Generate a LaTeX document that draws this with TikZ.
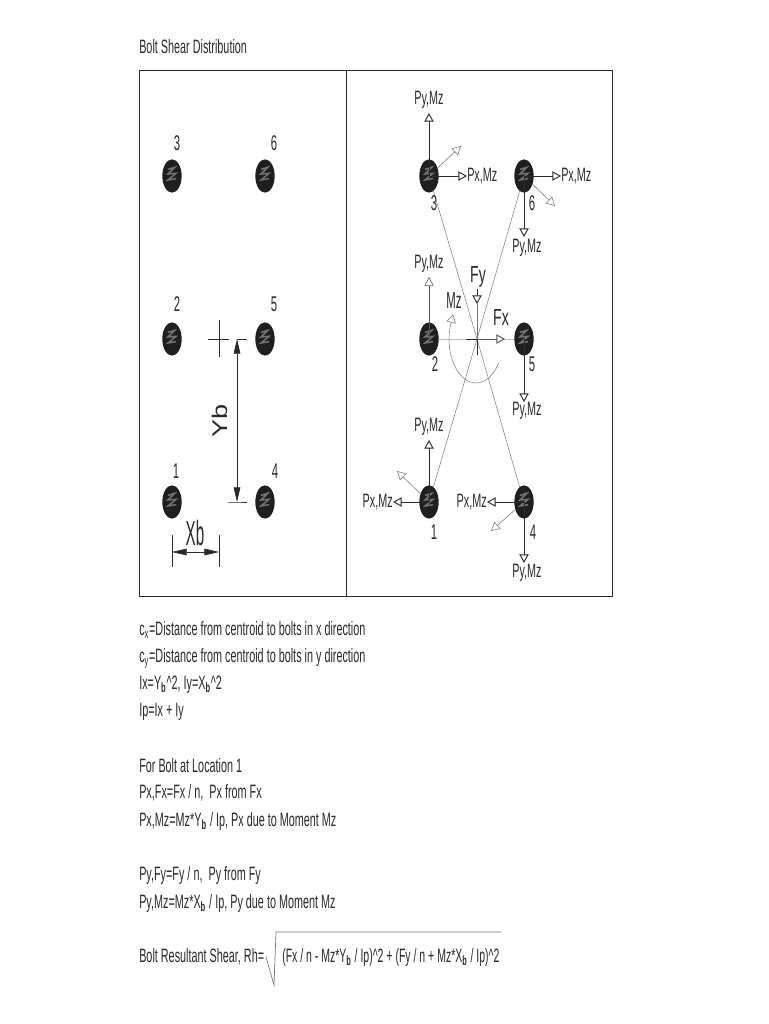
\documentclass[tikz,border=0pt]{standalone}
\usepackage{fontspec}
\setmainfont[FakeStretch=0.56]{Liberation Sans}
\usepackage{xcolor}
\usetikzlibrary{positioning,arrows.meta,shapes.geometric}
\definecolor{ink}{HTML}{2A2A2A}
\newcommand{\subb}{\textsubscript{\textbf{b}}}
\tikzset{
  bolt/.style={draw=none,ellipse,fill=black!88,minimum width=14.5pt,minimum height=25pt,inner sep=0pt,
    path picture={\draw[black!55,line width=1.1pt]
      ([shift={(-3pt,5pt)}]path picture bounding box.center) -- ++(5pt,1.5pt) -- ++(-5pt,-5pt) -- ++(6pt,0.5pt) -- ++(-6pt,-5pt) -- ++(6pt,1pt);}},
  lbl/.style={text=ink,inner sep=0pt,font=\fontsize{14.5}{16}\selectfont},
  num/.style={lbl},
  line/.style={lbl,anchor=west},
  force/.style={draw=ink,line width=0.7pt,-{Triangle[open,length=6.5pt,width=7pt,fill=white]}},
  moment/.style={draw=black!50,line width=0.45pt,-{Triangle[open,length=6.5pt,width=7pt,fill=white]}},
  radial/.style={draw=black!55,line width=0.35pt},
  dim/.style={draw=ink,line width=0.5pt,{Triangle[length=11pt,width=5pt]}-{Triangle[length=11pt,width=5pt]}},
  thin line/.style={draw=ink,line width=0.5pt}
}
\begin{document}
\begin{tikzpicture}[x=0.75pt,y=-0.75pt]
  \useasboundingbox (0,0) rectangle (768,1024);
  \fill[white] (0,0) rectangle (768,1024);

  \node[line] (title) at (139,47) {Bolt Shear Distribution};
  \node[draw=ink,line width=0.7pt,minimum width=354.75pt,minimum height=394.5pt,inner sep=0pt,anchor=north west] (frame) at (139,70) {};
  \coordinate (divtop) at (346,70);
  \coordinate (divbot) at (346,596);
  \draw[draw=ink,line width=0.6pt] (divtop) -- (divbot);

  % left panel
  \node[bolt] (a1) at (172,502) {};
  \node[bolt] (a2) at (172,339) {};
  \node[bolt] (a3) at (172,176) {};
  \node[bolt] (a4) at (265,502) {};
  \node[bolt] (a5) at (265,339) {};
  \node[bolt] (a6) at (265,176) {};
  \node[num] (na3) at (177,143) {\scalebox{1.05}[1.1]{3}};
  \node[num] (na6) at (274,143) {\scalebox{1.05}[1.1]{6}};
  \node[num] (na2) at (177,304) {\scalebox{1.05}[1.1]{2}};
  \node[num] (na5) at (274,304) {\scalebox{1.05}[1.1]{5}};
  \node[num] (na1) at (176,471) {\scalebox{1.05}[1.1]{1}};
  \node[num] (na4) at (275,471) {\scalebox{1.05}[1.1]{4}};

  \coordinate (ca) at (219,339);
  \draw[thin line] (208,339) -- (229,339);
  \draw[thin line] (219,320) -- (219,357);
  \coordinate (ytop) at (237,339);
  \coordinate (ybot) at (237,502);
  \draw[thin line] (ytop) -- +(10,0);
  \draw[thin line] (228,502) -- (ybot) -- +(10,0);
  \draw[dim] (ytop) -- (ybot);
  \node[lbl,rotate=90] (yb) at (220,421) {\scalebox{2.5}[1.1]{Yb}};
  \coordinate (xl) at (172,552);
  \coordinate (xr) at (219,552);
  \draw[thin line] (172,535) -- (172,567);
  \draw[thin line] (219,535) -- (219,567);
  \draw[dim] (xl) -- (xr);
  \node[lbl] (xb) at (195,533) {\scalebox{1.4}[1.8]{Xb}};

  % right panel
  \node[bolt] (b1) at (429,502) {};
  \node[bolt] (b2) at (429,339) {};
  \node[bolt] (b3) at (429,176) {};
  \node[bolt] (b4) at (524,502) {};
  \node[bolt] (b5) at (524,339) {};
  \node[bolt] (b6) at (524,176) {};
  \coordinate (cb) at (477,339);

  \draw[radial] (cb) -- (b1);
  \draw[radial] (cb) -- (b3);
  \draw[radial] (cb) -- (b4);
  \draw[radial] (cb) -- (b6);
  \draw[draw=black!25,line width=0.6pt] (b2) -- (b5);

  \node[num] (nb3) at (434,203) {\scalebox{1.05}[1.1]{3}};
  \node[num] (nb6) at (532,203) {\scalebox{1.05}[1.1]{6}};
  \node[num] (nb2) at (435,364) {\scalebox{1.05}[1.1]{2}};
  \node[num] (nb5) at (532,364) {\scalebox{1.05}[1.1]{5}};
  \node[num] (nb1) at (434,532) {\scalebox{1.05}[1.1]{1}};
  \node[num] (nb4) at (533,532) {\scalebox{1.05}[1.1]{4}};

  % bolt 3
  \coordinate (u3) at (429,113);
  \coordinate (r3) at (467,176);
  \coordinate (m3) at (461,146);
  \node[lbl] (py3) at (429,100) {Py,Mz};
  \node[lbl,right=0pt of r3] (px3) {Px,Mz};
  \draw[force] (b3.center) -- (u3);
  \draw[force] (b3.center) -- (r3);
  \draw[moment] (b3) -- (m3);

  % bolt 6
  \coordinate (d6) at (524,237);
  \coordinate (r6) at (561,176);
  \coordinate (m6) at (555,206);
  \node[lbl] (py6) at (527,248) {Py,Mz};
  \node[lbl,right=0pt of r6] (px6) {Px,Mz};
  \draw[force] (b6.center) -- (d6);
  \draw[force] (b6.center) -- (r6);
  \draw[moment] (b6) -- (m6);

  % bolt 2
  \coordinate (u2) at (429,277);
  \node[lbl] (py2) at (429,264) {Py,Mz};
  \draw[moment,draw=ink!80] (b2.center) -- (u2);

  % bolt 5
  \coordinate (d5) at (524,402);
  \node[lbl] (py5) at (527,411) {Py,Mz};
  \draw[force] (b5.center) -- (d5);

  % bolt 1
  \coordinate (u1) at (429,440);
  \coordinate (l1) at (393,502);
  \coordinate (m1) at (397,471);
  \node[lbl] (py1) at (429,427) {Py,Mz};
  \node[lbl,left=0pt of l1] (px1) {Px,Mz};
  \draw[force] (b1.center) -- (u1);
  \draw[force] (b1.center) -- (l1);
  \draw[moment] (b1) -- (m1);

  % bolt 4
  \coordinate (d4) at (524,563);
  \coordinate (l4) at (487,502);
  \coordinate (m4) at (491,531);
  \node[lbl] (py4) at (527,573) {Py,Mz};
  \node[lbl,left=0pt of l4] (px4) {Px,Mz};
  \draw[force] (b4.center) -- (d4);
  \draw[force] (b4.center) -- (l4);
  \draw[moment] (b4) -- (m4);

  % applied loads at the centroid
  \coordinate (fytail) at (477,289);
  \coordinate (fytip) at (477,304);
  \coordinate (fxtip) at (505,339);
  \coordinate (arcst) at (449.6,329.9);
  \coordinate (mztip) at (453,314);
  \draw[thin line] (466,339) -- (487,339);
  \draw[thin line] (cb) -- (477,355);
  \draw[force] (fytail) -- (fytip);
  \draw[radial] (fytip) -- (cb);
  \draw[force,draw=ink!80] (cb) -- (fxtip);
  \draw[moment] (arcst) -- (mztip);
  \draw[draw=black!50,line width=0.4pt] (arcst) arc[start angle=168,delta angle=159,x radius=20.25pt,y radius=33pt];
  \node[lbl] (fy) at (478,277) {\scalebox{1.3}[1.2]{Fy}};
  \node[lbl] (fx) at (501,318) {\scalebox{1.3}[1.2]{Fx}};
  \node[lbl] (mz) at (454,301) {\scalebox{1.05}[1.2]{Mz}};

  % notes
  \node[line] (t1) at (139,630) {c\textsubscript{x}=Distance from centroid to bolts in x direction};
  \node[line] (t2) at (139,658) {c\textsubscript{y}=Distance from centroid to bolts in y direction};
  \node[line] (t3) at (139,685) {Ix=Y\subb\^{}2, Iy=X\subb\^{}2};
  \node[line] (t4) at (139,712) {Ip=Ix + Iy};
  \node[line] (t5) at (139,766) {For Bolt at Location 1};
  \node[line] (t6) at (139,793) {Px,Fx=Fx / n,\ \ Px from Fx};
  \node[line] (t7) at (139,821) {Px,Mz=Mz*Y\subb\,/ Ip, Px due to Moment Mz};
  \node[line] (t8) at (139,875) {Py,Fy=Fy / n,\ \ Py from Fy};
  \node[line] (t9) at (139,903) {Py,Mz=Mz*X\subb\,/ Ip, Py due to Moment Mz};
  \node[line] (t10) at (139,957) {Bolt Resultant Shear, Rh=};
  \node[line] (t11) at (282,957) {\scalebox{0.97}[1]{(Fx / n - Mz*Y\subb\,/ Ip)\^{}2 + (Fy / n + Mz*X\subb\,/ Ip)\^{}2}};
  \coordinate (ra) at (266,957);
  \coordinate (rb) at (274,985);
  \coordinate (rc) at (276,932);
  \coordinate (rd) at (501,932);
  \draw[draw=black!55,line width=0.5pt] (ra) -- (rb) -- (rc) -- (rd);
\end{tikzpicture}
\end{document}
